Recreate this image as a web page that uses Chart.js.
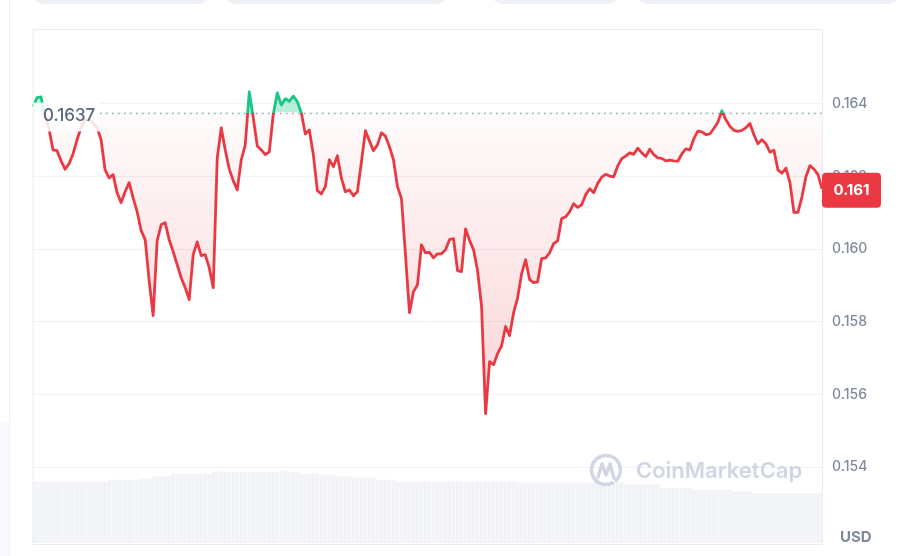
<!DOCTYPE html>
<html>
<head>
<meta charset="utf-8">
<script src="https://cdn.jsdelivr.net/npm/chart.js@4.4.1/dist/chart.umd.min.js"></script>
<style>
  body { margin: 0; background: #fff; }
  #wrap { position: relative; width: 899px; height: 556px; overflow: hidden; }
  #myChart { position: absolute; left: 0; top: 0; }
  .pill { position: absolute; top: -20px; height: 24px; background: #eef1f6; border-radius: 10px; }
  #side { position: absolute; left: 9px; top: 0; width: 1px; height: 556px; background: #eef1f5; }
  #sidePanel { position: absolute; left: 0; top: 422px; width: 9px; height: 134px; background: #f8f9fc; }
</style>
</head>
<body>
<div id="wrap">
  <canvas id="myChart" width="899" height="556"></canvas>
  <div id="side"></div>
  <div id="sidePanel"></div>
  <div class="pill" style="left:33px;width:176px"></div>
  <div class="pill" style="left:225px;width:222px"></div>
  <div class="pill" style="left:492px;width:126px"></div>
  <div class="pill" style="left:637px;width:262px"></div>
</div>
<script>
var ctx = document.getElementById('myChart');

// price, 24h, one point every few minutes
var prices = [
  0.16392, 0.16417, 0.16419, 0.16367, 0.16331, 0.16273, 0.16271, 0.16243, 0.16220, 0.16235,
  0.16262, 0.16301, 0.16334, 0.16356, 0.16356, 0.16348, 0.16334, 0.16301, 0.16218, 0.16196,
  0.16205, 0.16155, 0.16128, 0.16158, 0.16183, 0.16141, 0.16103, 0.16051, 0.16026, 0.15913,
  0.15817, 0.16023, 0.16067, 0.16073, 0.16026, 0.15993, 0.15957, 0.15921, 0.15894, 0.15861,
  0.15985, 0.16020, 0.15982, 0.15985, 0.15949, 0.15894, 0.16251, 0.16334, 0.16273, 0.16221,
  0.16188, 0.16163, 0.16246, 0.16287, 0.16433, 0.16361, 0.16284, 0.16273, 0.16260, 0.16268,
  0.16372, 0.16430, 0.16397, 0.16414, 0.16407, 0.16421, 0.16406, 0.16375, 0.16317, 0.16328,
  0.16260, 0.16161, 0.16152, 0.16172, 0.16246, 0.16227, 0.16257, 0.16196, 0.16158, 0.16163,
  0.16147, 0.16158, 0.16240, 0.16326, 0.16298, 0.16271, 0.16287, 0.16320, 0.16311, 0.16282,
  0.16246, 0.16172, 0.16139, 0.15985, 0.15825, 0.15883, 0.15902, 0.16012, 0.15990, 0.15991,
  0.15976, 0.15987, 0.15987, 0.15998, 0.16026, 0.16029, 0.15941, 0.15938, 0.16056, 0.16024,
  0.15998, 0.15941, 0.15842, 0.15547, 0.15690, 0.15682, 0.15712, 0.15734, 0.15787, 0.15762,
  0.15825, 0.15866, 0.15932, 0.15971, 0.15916, 0.15908, 0.15910, 0.15974, 0.15976, 0.15990,
  0.16015, 0.16023, 0.16084, 0.16089, 0.16103, 0.16125, 0.16115, 0.16122, 0.16150, 0.16166,
  0.16155, 0.16181, 0.16198, 0.16206, 0.16201, 0.16199, 0.16229, 0.16249, 0.16256, 0.16265,
  0.16261, 0.16278, 0.16265, 0.16255, 0.16275, 0.16260, 0.16251, 0.16250, 0.16243, 0.16245,
  0.16243, 0.16242, 0.16262, 0.16276, 0.16273, 0.16304, 0.16325, 0.16323, 0.16315, 0.16317,
  0.16332, 0.16349, 0.16381, 0.16356, 0.16338, 0.16327, 0.16324, 0.16327, 0.16334, 0.16346,
  0.16315, 0.16290, 0.16301, 0.16290, 0.16267, 0.16272, 0.16218, 0.16209, 0.16223, 0.16183,
  0.16101, 0.16101, 0.16144, 0.16199, 0.16230, 0.16220, 0.16205, 0.16166
];

// 24h rolling volume, relative units
var volumes = [
  61.3, 61.3, 61.3, 61.3, 61.3, 61.3, 61.3, 61.3, 61.3, 61.3, 61.3, 61.3, 61.3, 61.3, 61.3, 61.3, 61.3, 61.3, 61.3,
  63, 63, 63, 63, 63, 63, 63, 63,
  64, 64, 64,
  66, 66,
  67, 67, 67,
  69, 69, 69, 69, 69, 69, 69, 69, 69, 69,
  71, 71, 72,
  71, 71, 71, 71, 71, 71, 71, 71, 71, 71, 71, 71, 71, 71,
  72, 72,
  71, 71, 71,
  69, 69, 69, 69, 69,
  68, 68, 68, 68,
  66, 66, 66, 66,
  65, 65, 65, 65, 65, 65,
  63, 63, 63, 63, 63,
  61, 61, 61, 61, 61, 61, 61, 61, 61, 61, 61, 61, 61, 61, 61, 61, 61, 61, 61, 61, 61, 61,
  61.3, 61.3, 61.3, 61.3, 61.3, 61.3, 61.3, 61.3,
  60.3, 60.3, 60.3, 60.3, 60.3, 60.3, 60.3, 60.3, 60.3, 60.3, 60.3, 60.3, 60.3, 60.3,
  60.3, 60.3, 60.3, 60.3, 60.3, 60.3, 60.3, 60.3, 60.3, 60.3, 60.3, 60.3, 60.3,
  58.7, 58.7, 58.7, 58.7, 58.7, 58.7, 58.7, 58.7, 58.7,
  54.7, 54.7, 54.7, 54.7, 54.7, 54.7, 54.7, 54.7,
  53, 53, 53, 53, 53, 53, 53, 53, 53, 53,
  51.3, 51.3, 51.3, 51.3, 51.3,
  49.7, 49.7, 49.7, 49.7, 49.7, 49.7, 49.7, 49.7, 49.7, 49.7, 49.7, 49.7, 49.7, 49.7, 49.7, 49.7, 49.7, 49.7
];

var yTicks = [0.154, 0.156, 0.158, 0.160, 0.162, 0.164];
var baseline = 0.16376;   // open price of the period
var labels = prices.map(function (p, i) { return i; });

var RED = '#ea3943';
var GREEN = '#16c784';

function lineColor(context) {
  var chart = context.chart;
  var area = chart.chartArea;
  if (!area || !chart.scales.y) return RED;
  var by = chart.scales.y.getPixelForValue(baseline);
  var p = Math.min(1, Math.max(0, (by - area.top) / (area.bottom - area.top)));
  var g = chart.ctx.createLinearGradient(0, area.top, 0, area.bottom);
  g.addColorStop(0, GREEN);
  g.addColorStop(p, GREEN);
  g.addColorStop(p, RED);
  g.addColorStop(1, RED);
  return g;
}

function belowFill(context) {
  var chart = context.chart;
  var area = chart.chartArea;
  if (!area || !chart.scales.y) return 'rgba(234,57,67,0.08)';
  var by = chart.scales.y.getPixelForValue(baseline);
  var g = chart.ctx.createLinearGradient(0, by, 0, area.bottom);
  g.addColorStop(0, 'rgba(234,57,67,0.02)');
  g.addColorStop(1, 'rgba(234,57,67,0.30)');
  return g;
}

var overlay = {
  id: 'overlay',
  beforeDatasetsDraw: function (chart) {
    var c = chart.ctx, a = chart.chartArea;
    var by = Math.round(chart.scales.y.getPixelForValue(baseline)) + 0.5;
    c.save();
    c.strokeStyle = '#9aa3b5';
    c.lineWidth = 1.5;
    c.setLineDash([1.5, 4.5]);
    c.beginPath();
    c.moveTo(a.left + 67, by);
    c.lineTo(a.right, by);
    c.stroke();
    c.restore();
  },
  afterDatasetsDraw: function (chart) {
    var c = chart.ctx, a = chart.chartArea;
    var by = chart.scales.y.getPixelForValue(baseline);
    c.save();

    // watermark
    c.strokeStyle = '#cfd6e4';
    c.fillStyle = '#cfd6e4';
    c.lineWidth = 3.5;
    c.lineCap = 'round';
    c.lineJoin = 'round';
    c.beginPath();
    c.arc(606, 470, 14.5, 0.35 * Math.PI, 2.25 * Math.PI);
    c.stroke();
    c.beginPath();
    c.moveTo(598, 477);
    c.lineTo(602, 464);
    c.lineTo(606, 475);
    c.lineTo(610, 464);
    c.lineTo(614, 478);
    c.stroke();
    c.font = '600 22px Inter, "Open Sans", sans-serif';
    c.textBaseline = 'middle';
    c.textAlign = 'left';
    c.fillText('CoinMarketCap', 636, 471);

    // open price label
    c.fillStyle = 'rgba(255,255,255,0.85)';
    c.fillRect(a.left, by - 10, 67, 29);
    c.fillStyle = '#58667e';
    c.font = '500 17px Inter, sans-serif';
    c.fillText((Math.floor(baseline * 10000) / 10000).toFixed(4), a.left + 10, by + 3);

    // chart frame
    c.strokeStyle = '#e9ecf1';
    c.lineWidth = 1;
    c.strokeRect(a.left + 0.5, a.top + 0.5, a.right - a.left, a.bottom - a.top + 1);

    // current price tag
    var last = prices[prices.length - 1];
    var ly = chart.scales.y.getPixelForValue(last);
    c.fillStyle = RED;
    c.beginPath();
    c.roundRect(a.right, ly - 16, 59, 35, 4);
    c.fill();
    c.fillStyle = '#fff';
    c.font = 'bold 15px Inter, sans-serif';
    c.textAlign = 'center';
    c.fillText((Math.floor(last * 1000) / 1000).toFixed(3), a.right + 29.5, ly + 2);

    // unit
    c.fillStyle = '#808a9d';
    c.font = 'bold 15px Inter, sans-serif';
    c.textAlign = 'left';
    c.fillText('USD', 840, 537);
    c.restore();
  }
};

var priceChart = new Chart(ctx, {
  type: 'bar',
  data: {
    labels: labels,
    datasets: [
      {
        type: 'line',
        label: 'Price',
        data: prices,
        yAxisID: 'y',
        order: 0,
        borderColor: lineColor,
        borderWidth: 2.8,
        borderJoinStyle: 'round',
        pointRadius: 0,
        tension: 0,
        backgroundColor: belowFill,
        fill: { target: { value: baseline }, above: 'rgba(22,199,132,0.3)' }
      },
      {
        type: 'bar',
        label: 'Volume',
        data: volumes,
        yAxisID: 'y2',
        order: 1,
        backgroundColor: 'rgba(207,214,228,0.3)',
        barThickness: 3
      }
    ]
  },
  options: {
    responsive: false,
    animation: false,
    events: [],
    layout: { padding: { left: 33, top: 29, right: 0, bottom: 13 } },
    plugins: {
      legend: { display: false },
      tooltip: { enabled: false }
    },
    scales: {
      x: { display: false, offset: false },
      y: {
        position: 'right',
        min: 0.15191,
        max: 0.16606,
        afterBuildTicks: function (axis) {
          axis.ticks = yTicks.map(function (v) { return { value: v }; });
        },
        afterFit: function (axis) {
          axis.width = 77;
          // labels never sit at the very ends, so no extra room is needed
          axis.paddingTop = 0;
          axis.paddingBottom = 0;
        },
        grid: { color: '#eff1f4', drawTicks: false },
        border: { display: false },
        ticks: {
          padding: 10,
          color: '#808a9d',
          font: { family: 'Inter', size: 14, weight: '500' },
          callback: function (v) { return v.toFixed(3); }
        }
      },
      y2: { display: false, min: 0, max: 514 }
    }
  },
  plugins: [overlay]
});
</script>
</body>
</html>
